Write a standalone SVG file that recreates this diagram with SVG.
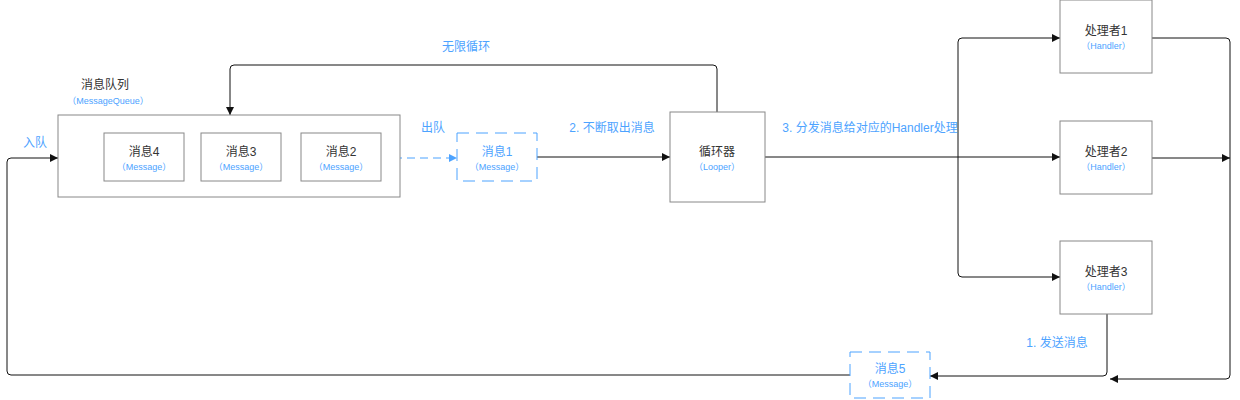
<svg xmlns="http://www.w3.org/2000/svg" width="1240" height="400" viewBox="0 0 1240 400">
<style>
text{font-family:"Liberation Sans","Noto Sans CJK SC",sans-serif;text-anchor:middle}
.t{font-size:12px;fill:#333}
.s{font-size:9px;fill:#4da3ff}
.b{font-size:12px;fill:#4da3ff}
.box{fill:#fff;stroke:#888;stroke-width:1}
.dash{fill:#fff;stroke:#4da3ff;stroke-width:1;stroke-dasharray:12 7}
.c{fill:none;stroke:#111;stroke-width:1}
</style>
<defs>
<marker id="a" viewBox="0 0 10 10" refX="10" refY="5" markerWidth="8" markerHeight="8" markerUnits="userSpaceOnUse" orient="auto"><path d="M0,0L10,5L0,10z" fill="#111"/></marker>
<marker id="ab" viewBox="0 0 10 10" refX="10" refY="5" markerWidth="8" markerHeight="8" markerUnits="userSpaceOnUse" orient="auto"><path d="M0,0L10,5L0,10z" fill="#4da3ff"/></marker>
</defs>
<g id="connectors">
<path class="c" d="M717,112V69Q717,65 713,65H234Q230,65 230,69V115" marker-end="url(#a)"/>
<path class="c" d="M537,157H670" marker-end="url(#a)"/>
<path d="M381,158H457" fill="none" stroke="#4da3ff" stroke-dasharray="8 5" marker-end="url(#ab)"/>
<path class="c" d="M765,157H958" />
<path class="c" d="M962,38H1060" marker-end="url(#a)"/>
<path class="c" d="M958,157H1060" marker-end="url(#a)"/>
<path class="c" d="M962,277H1060" marker-end="url(#a)"/>
<path class="c" d="M962,38Q958,38 958,42V273Q958,277 962,277"/>
<path class="c" d="M1152,38H1226Q1230,38 1230,42V375Q1230,379 1226,379H1110" marker-end="url(#a)"/>
<path class="c" d="M1152,158H1230" marker-end="url(#a)"/>
<path class="c" d="M1107,314V372Q1107,376 1103,376H930" marker-end="url(#a)"/>
<path class="c" d="M850,375H11Q7,375 7,371V162Q7,158 11,158H58" marker-end="url(#a)"/>
</g>
<g id="labels">
<text class="b" x="35" y="147">入队</text>
<text class="b" x="433" y="132">出队</text>
<text class="b" x="612" y="132">2. 不断取出消息</text>
<text class="b" x="870" y="132">3. 分发消息给对应的Handler处理</text>
<text class="b" x="466" y="51">无限循环</text>
<text class="b" x="1057" y="347">1. 发送消息</text>
</g>
<g id="queue"><rect class="box" x="58" y="115" width="342" height="82"/>
<text class="t" x="105" y="89">消息队列</text><text class="s" x="108" y="104">（MessageQueue）</text></g>
<g id="msg4"><rect class="box" x="104" y="133" width="80" height="48"/><text class="t" x="144" y="156">消息4</text><text class="s" x="144" y="170">（Message）</text></g>
<g id="msg3"><rect class="box" x="201" y="133" width="80" height="48"/><text class="t" x="241" y="156">消息3</text><text class="s" x="241" y="170">（Message）</text></g>
<g id="msg2"><rect class="box" x="301" y="133" width="80" height="48"/><text class="t" x="341" y="156">消息2</text><text class="s" x="341" y="170">（Message）</text></g>
<g id="msg1"><rect class="dash" x="457" y="133" width="80" height="48"/><text class="b" x="497" y="156">消息1</text><text class="s" x="497" y="170">（Message）</text></g>
<g id="looper"><rect class="box" x="670" y="112" width="95" height="90"/><text class="t" x="717" y="156">循环器</text><text class="s" x="717" y="170">（Looper）</text></g>
<g id="h1"><rect class="box" x="1060" y="0" width="92" height="73"/><text class="t" x="1106" y="35">处理者1</text><text class="s" x="1106" y="49">（Handler）</text></g>
<g id="h2"><rect class="box" x="1060" y="121" width="92" height="73"/><text class="t" x="1106" y="156">处理者2</text><text class="s" x="1106" y="170">（Handler）</text></g>
<g id="h3"><rect class="box" x="1060" y="241" width="92" height="73"/><text class="t" x="1106" y="276">处理者3</text><text class="s" x="1106" y="290">（Handler）</text></g>
<g id="msg5"><rect class="dash" x="850" y="352" width="80" height="46"/><text class="b" x="890" y="373">消息5</text><text class="s" x="890" y="387">（Message）</text></g>
</svg>
